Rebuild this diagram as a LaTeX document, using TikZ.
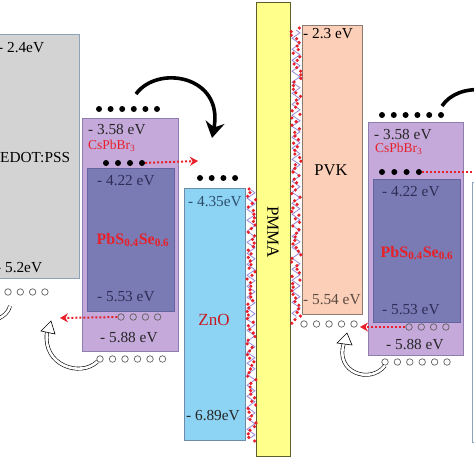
\documentclass[tikz,border=0pt]{standalone}
\usepackage{fontspec}
\setmainfont{Liberation Serif}
\usepackage{tikz}
\usetikzlibrary{arrows.meta}
\usetikzlibrary{decorations.pathmorphing}

\definecolor{pedotgray}{HTML}{D3D3D3}
\definecolor{pedotedge}{HTML}{8FA3B8}
\definecolor{cslilac}{HTML}{C4A9DA}
\definecolor{csedge}{HTML}{8E7EB0}
\definecolor{pbsblue}{HTML}{7A7AB4}
\definecolor{pbsedge}{HTML}{6464A0}
\definecolor{znoblue}{HTML}{8DD3F3}
\definecolor{znoedge}{HTML}{6E8CAA}
\definecolor{pmmayellow}{HTML}{FFFF8C}
\definecolor{pmmaedge}{HTML}{5E5E2A}
\definecolor{pvksalmon}{HTML}{FCCFB8}
\definecolor{pvkedge}{HTML}{8A7A70}
\definecolor{redflow}{HTML}{E8202A}
\definecolor{zigblue}{HTML}{9A8ADC}
\definecolor{holegray}{HTML}{606060}
\definecolor{darkval}{HTML}{2E2E58}
\definecolor{znoval}{HTML}{2D4E6E}
\definecolor{pvkval}{HTML}{5A4A40}

\begin{document}
\begin{tikzpicture}[x=1pt,y=-1pt,
    band/.style={draw,line width=0.8pt,inner sep=0pt,anchor=north west},
    lbl/.style={inner sep=0pt,anchor=west,font=\fontsize{15.3}{17}\selectfont},
    mat/.style={inner sep=0pt,font=\fontsize{17}{19}\selectfont},
    elec/.style={circle,fill=black,inner sep=0pt,minimum size=6pt},
    hole/.style={circle,draw=holegray,line width=0.7pt,inner sep=0pt,minimum size=6.5pt},
    flow/.style={draw=redflow,line width=2pt,dash pattern=on 2pt off 2pt,-{Stealth[length=8pt,width=9pt,fill=redflow]}},
    hollow/.style={draw=black,line width=0.6pt,double=white,double distance=2.6pt}]
    \useasboundingbox (0,0) rectangle (474,474);

    % layers
    \node[band,draw=pedotedge,fill=pedotgray,minimum width=99pt,minimum height=244pt] (pedot) at (-20,34) {};
    \node[band,draw=csedge,fill=cslilac,minimum width=96pt,minimum height=233pt] (csleft) at (82,118) {};
    \node[band,draw=pbsedge,fill=pbsblue,minimum width=87pt,minimum height=143pt] (pbsleft) at (87,168) {};
    \node[band,draw=znoedge,fill=znoblue,minimum width=61pt,minimum height=252pt] (zno) at (184,188) {};
    \node[band,draw=pmmaedge,fill=pmmayellow,minimum width=34pt,minimum height=454pt] (pmma) at (256,2) {};
    \node[band,draw=pvkedge,fill=pvksalmon,minimum width=60pt,minimum height=289pt] (pvk) at (302,25) {};
    \node[band,draw=csedge,fill=cslilac,minimum width=95pt,minimum height=233pt] (csright) at (368,122) {};
    \node[band,draw=pbsedge,fill=pbsblue,minimum width=87pt,minimum height=143pt] (pbsright) at (373,179) {};
    \node[band,draw=pedotedge,fill=white,line width=1.2pt,minimum width=60pt,minimum height=260pt] (farright) at (472,182) {};

    % interfaces
    \draw[zigblue,line width=0.8pt,decorate,decoration={zigzag,segment length=11pt,amplitude=4pt}] (251,190) -- (251,438);
    \draw[zigblue,line width=0.8pt,decorate,decoration={zigzag,segment length=11pt,amplitude=4pt}] (296,30) -- (296,318);
    \pgfmathsetseed{42}
    \foreach \k in {0,...,70}{
        \pgfmathsetmacro{\dx}{247+9*rnd}
        \fill[redflow] (\dx,189+\k*3.6) circle[radius=1.8pt];
    }
    \foreach \k in {0,...,82}{
        \pgfmathsetmacro{\dx}{291+10*rnd}
        \fill[redflow] (\dx,28+\k*3.6) circle[radius=1.8pt];
    }

    % texts
    \node[lbl] (pedothomo) at (-2,48) {- 2.4eV};
    \node[lbl] (pedotname) at (-8.5,158) {PEDOT:PSS};
    \node[lbl] (pedotlumo) at (-4,268) {- 5.2eV};

    \node[lbl,text=black!85] (csleftcb) at (88,130) {- 3.58 eV};
    \node[lbl,text=redflow,font=\fontsize{13.5}{15}\selectfont] (csleftname) at (88,146) {CsPbBr\textsubscript{3}};
    \node[lbl,text=darkval] (pbsleftcb) at (97,181) {- 4.22 eV};
    \node[mat,text=redflow,font=\fontsize{16}{18}\bfseries] (pbsleftname) at (133,240) {PbS\textsubscript{0.4}Se\textsubscript{0.6}};
    \node[lbl,text=darkval] (pbsleftvb) at (97,297) {- 5.53 eV};
    \node[lbl,text=black!85] (csleftvb) at (100,338) {- 5.88 eV};

    \node[lbl,text=znoval] (znocb) at (188,202) {- 4.35eV};
    \node[mat,text=redflow!85!black] (znoname) at (214,320) {ZnO};
    \node[lbl,text=black!85] (znovb) at (186,416) {- 6.89eV};

    \node[mat,rotate=-90] (pmmaname) at (273,232) {PMMA};

    \node[lbl] (pvkhomo) at (303,34) {- 2.3 eV};
    \node[mat,font=\fontsize{16.5}{18}\selectfont] (pvkname) at (331,170) {PVK};
    \node[lbl,text=pvkval] (pvklumo) at (303,300) {- 5.54 eV};

    \node[lbl,text=black!85] (csrightcb) at (374,135) {- 3.58 eV};
    \node[lbl,text=redflow,font=\fontsize{13.5}{15}\selectfont] (csrightname) at (375,149) {CsPbBr\textsubscript{3}};
    \node[lbl,text=darkval] (pbsrightcb) at (382,192) {- 4.22 eV};
    \node[mat,text=redflow,font=\fontsize{16}{18}\bfseries] (pbsrightname) at (417,253) {PbS\textsubscript{0.4}Se\textsubscript{0.6}};
    \node[lbl,text=darkval] (pbsrightvb) at (382,310) {- 5.53 eV};
    \node[lbl,text=black!85] (csrightvb) at (386,345) {- 5.88 eV};

    % electrons
    \foreach \i in {0,...,5} \node[elec] (eleft\i) at (99+\i*11.6,109) {};
    \foreach \i in {0,...,3} \node[elec] (eleftin\i) at (106+\i*12,163) {};
    \foreach \i in {0,...,3} \node[elec] (ezno\i) at (200+\i*11.7,178) {};
    \foreach \i in {0,...,5} \node[elec] (eright\i) at (382+\i*11.8,115) {};
    \foreach \i in {0,...,3} \node[elec] (erightin\i) at (382+\i*12.3,172) {};

    % holes
    \foreach \i in {0,...,3} \node[hole] (hpedot\i) at (8+\i*12.3,292) {};
    \foreach \i in {0,...,3} \node[hole] (hleftin\i) at (121+\i*12.2,317) {};
    \foreach \i in {0,...,5} \node[hole] (hleft\i) at (100+\i*12.5,359) {};
    \foreach \i in {0,...,4} \node[hole] (hpvk\i) at (304+\i*12.5,324) {};
    \foreach \i in {0,...,3} \node[hole] (hrightin\i) at (409+\i*12.3,327) {};
    \foreach \i in {0,...,5} \node[hole] (hright\i) at (385+\i*12.4,362) {};

    % charge transfer
    \coordinate (znoin) at (198,161);
    \coordinate (pedotout) at (60,318);
    \coordinate (pvkout) at (360,327);
    \coordinate (farin) at (480,172);
    \draw[flow] (eleftin3) -- (znoin);
    \draw[flow] (hleftin0) -- (pedotout);
    \draw[flow] (hrightin0) -- (pvkout);
    \draw[redflow,line width=2pt,dash pattern=on 2pt off 2pt] (erightin3) -- (farin);

    % energy transfer
    \coordinate (arcstart) at (136,94);
    \coordinate (arcend) at (212,138);
    \draw[line width=3.6pt,-{Stealth[length=16pt,width=19pt]}] (arcstart) .. controls (158,64) and (224,76) .. (arcend);
    \coordinate (arc2start) at (442,106);
    \coordinate (arc2end) at (484,90);
    \draw[line width=3.6pt] (arc2start) .. controls (450,94) and (466,88) .. (arc2end);

    % hole back transfer
    \coordinate (lbackend) at (47,332);
    \draw[hollow] (hleft0.south west) .. controls (80,378) and (42,365) .. (lbackend);
    \draw[line width=0.6pt,fill=white] (51,321) -- (41,331) -- (55,334) -- cycle;
    \coordinate (rbackend) at (344,343);
    \draw[hollow] (hright0.south) .. controls (370,385) and (334,372) .. (rbackend);
    \draw[line width=0.6pt,fill=white] (347,333) -- (337,343) -- (352,345) -- cycle;
    \coordinate (farleftend) at (10,306);
    \draw[hollow] (-14,322) .. controls (0,320) and (8,314) .. (farleftend);
\end{tikzpicture}
\end{document}
